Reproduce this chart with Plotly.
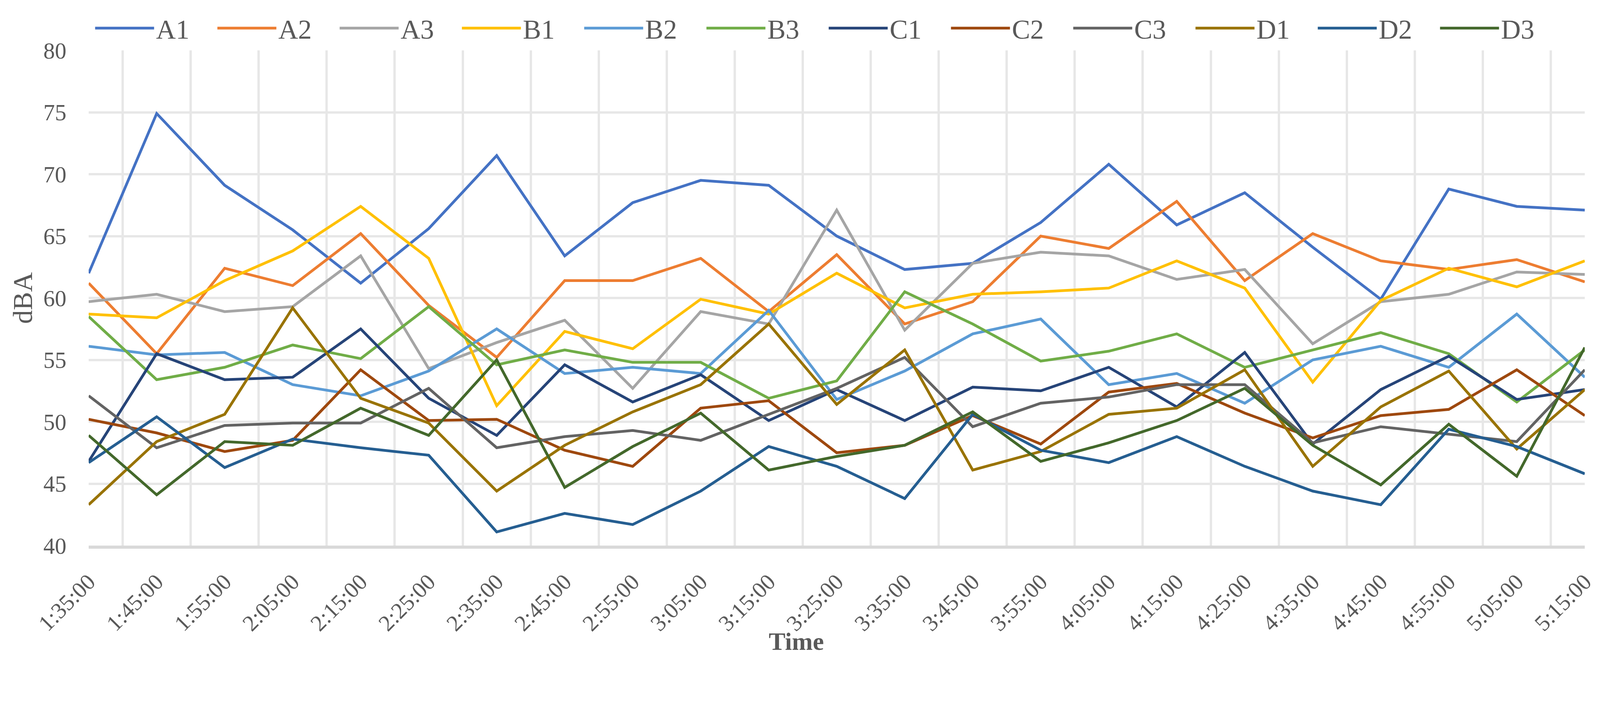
import plotly.graph_objects as go

times = ["1:35:00", "1:45:00", "1:55:00", "2:05:00", "2:15:00", "2:25:00",
         "2:35:00", "2:45:00", "2:55:00", "3:05:00", "3:15:00", "3:25:00",
         "3:35:00", "3:45:00", "3:55:00", "4:05:00", "4:15:00", "4:25:00",
         "4:35:00", "4:45:00", "4:55:00", "5:05:00", "5:15:00"]

a1 = [62.0, 74.9, 69.1, 65.5, 61.2, 65.6, 71.5, 63.4, 67.7, 69.5, 69.1, 65.0,
      62.3, 62.8, 66.1, 70.8, 65.9, 68.5, 64.1, 59.9, 68.8, 67.4, 67.1]
a2 = [61.2, 55.5, 62.4, 61.0, 65.2, 59.4, 55.2, 61.4, 61.4, 63.2, 58.9, 63.5,
      57.9, 59.7, 65.0, 64.0, 67.8, 61.4, 65.2, 63.0, 62.3, 63.1, 61.3]
a3 = [59.7, 60.3, 58.9, 59.3, 63.4, 54.3, 56.4, 58.2, 52.7, 58.9, 57.9, 67.1,
      57.4, 62.8, 63.7, 63.4, 61.5, 62.3, 56.3, 59.7, 60.3, 62.1, 61.9]
b1 = [58.7, 58.4, 61.4, 63.8, 67.4, 63.2, 51.3, 57.3, 55.9, 59.9, 58.7, 62.0,
      59.2, 60.3, 60.5, 60.8, 63.0, 60.8, 53.2, 59.8, 62.4, 60.9, 63.0]
b2 = [56.1, 55.4, 55.6, 53.0, 52.1, 54.1, 57.5, 53.9, 54.4, 53.9, 59.0, 51.8,
      54.1, 57.1, 58.3, 53.0, 53.9, 51.5, 55.0, 56.1, 54.4, 58.7, 53.6]
b3 = [58.5, 53.4, 54.4, 56.2, 55.1, 59.3, 54.6, 55.8, 54.8, 54.8, 51.9, 53.3,
      60.5, 57.9, 54.9, 55.7, 57.1, 54.4, 55.8, 57.2, 55.5, 51.6, 55.8]
c1 = [46.8, 55.5, 53.4, 53.6, 57.5, 51.9, 48.9, 54.6, 51.6, 53.8, 50.1, 52.6,
      50.1, 52.8, 52.5, 54.4, 51.2, 55.6, 48.2, 52.6, 55.3, 51.8, 52.6]
c2 = [50.2, 49.1, 47.6, 48.5, 54.2, 50.1, 50.2, 47.7, 46.4, 51.1, 51.7, 47.5,
      48.1, 50.5, 48.2, 52.4, 53.1, 50.7, 48.7, 50.5, 51.0, 54.2, 50.5]
c3 = [52.1, 47.9, 49.7, 49.9, 49.9, 52.7, 47.9, 48.8, 49.3, 48.5, 50.6, 52.7,
      55.2, 49.6, 51.5, 52.0, 53.0, 53.0, 48.3, 49.6, 49.0, 48.4, 54.2]
d1 = [43.3, 48.4, 50.6, 59.2, 51.9, 49.9, 44.4, 48.1, 50.8, 53.0, 57.9, 51.4,
      55.8, 46.1, 47.6, 50.6, 51.1, 54.2, 46.4, 51.2, 54.1, 47.8, 52.6]
d2 = [46.7, 50.4, 46.3, 48.6, 47.9, 47.3, 41.1, 42.6, 41.7, 44.4, 48.0, 46.4,
      43.8, 50.6, 47.7, 46.7, 48.8, 46.4, 44.4, 43.3, 49.4, 48.0, 45.8]
d3 = [48.9, 44.1, 48.4, 48.1, 51.1, 48.9, 55.0, 44.7, 48.0, 50.7, 46.1, 47.2,
      48.1, 50.8, 46.8, 48.3, 50.1, 52.7, 48.1, 44.9, 49.8, 45.6, 56.0]

series = [("A1", a1, "#4472C4"), ("A2", a2, "#ED7D31"), ("A3", a3, "#A5A5A5"),
          ("B1", b1, "#FFC000"), ("B2", b2, "#5B9BD5"), ("B3", b3, "#70AD47"),
          ("C1", c1, "#264478"), ("C2", c2, "#9E480E"), ("C3", c3, "#636363"),
          ("D1", d1, "#997300"), ("D2", d2, "#255E91"), ("D3", d3, "#43682B")]

FONT = "Palatino Linotype, Book Antiqua, Palatino, Liberation Serif, serif"
TXT = "#595959"

fig = go.Figure()
for name, vals, col in series:
    fig.add_trace(go.Scatter(
        x=times, y=vals, name=name, mode="lines",
        line=dict(color=col, width=7)
    ))

fig.update_layout(
    width=4084, height=1725,
    margin=dict(l=219, r=35, t=121, b=336),
    paper_bgcolor="white", plot_bgcolor="white",
    font=dict(family=FONT, color=TXT, size=59),
    legend=dict(
        orientation="h", x=0.003, xanchor="left", y=1.045, yanchor="middle",
        font=dict(size=70, color=TXT), itemwidth=151,
        entrywidth=147, entrywidthmode="pixels",
        bgcolor="rgba(0,0,0,0)"
    ),
    xaxis=dict(
        type="category", tickson="boundaries", tickangle=-45,
        showgrid=True, gridcolor="#E7E7E7", gridwidth=5.5,
        showline=True, linecolor="#D9D9D9", linewidth=7.5,
        ticks="", ticklabelstandoff=28, automargin=False,
        tickfont=dict(size=58, color=TXT),
    ),
    yaxis=dict(
        range=[40, 80], dtick=5, showgrid=True, gridcolor="#E7E7E7",
        gridwidth=5.5, zeroline=False, ticks="", ticklabelstandoff=56,
        automargin=False, tickfont=dict(size=59, color=TXT),
        title=dict(text="dBA", font=dict(size=70, color=TXT), standoff=5),
    ),
    annotations=[dict(
        text="<b>Time</b>", xref="paper", yref="paper", x=0.473, y=-0.194,
        xanchor="center", yanchor="middle", showarrow=False,
        font=dict(size=64, color=TXT)
    )],
)

fig.write_html("out.html")
